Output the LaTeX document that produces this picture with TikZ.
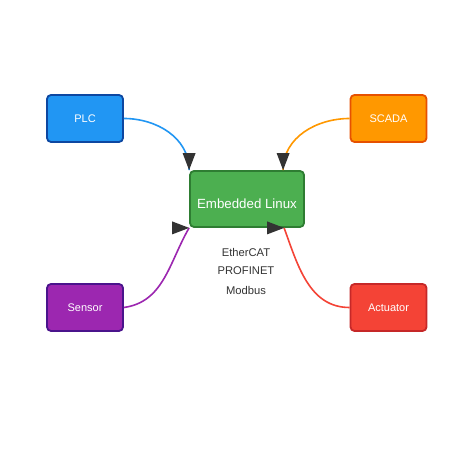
\documentclass[tikz,border=0pt]{standalone}
\usepackage{fontspec}
\setmainfont{Liberation Sans}
\usetikzlibrary{calc}
\definecolor{plcf}{HTML}{2196F3}\definecolor{plcd}{HTML}{0D47A1}
\definecolor{scaf}{HTML}{FF9800}\definecolor{scad}{HTML}{E65100}
\definecolor{senf}{HTML}{9C27B0}\definecolor{send}{HTML}{4A148C}
\definecolor{actf}{HTML}{F44336}\definecolor{actd}{HTML}{C62828}
\definecolor{linf}{HTML}{4CAF50}\definecolor{lind}{HTML}{2E7D32}
\definecolor{arrc}{HTML}{333333}
\tikzset{
  devbox/.style={draw, line width=1.8pt, rounded corners=4pt, minimum width=76pt, minimum height=47pt, inner sep=0pt, text=white, font=\fontsize{11}{13}\selectfont},
  corebox/.style={devbox, minimum width=114pt, minimum height=56pt, text height=20pt, text depth=0pt, font=\fontsize{13.3}{15}\selectfont},
  link/.style={line width=1.6pt},
  tipc/.style={fill=arrc},
  proto/.style={text=arrc, font=\fontsize{11.2}{13}\selectfont}
}
\begin{document}
\begin{tikzpicture}[x=1pt,y=1pt]
\useasboundingbox[fill=white] (0,0) rectangle (474,474);
\node[devbox, fill=plcf, draw=plcd] (plc) at (85,355.5) {PLC};
\node[devbox, fill=scaf, draw=scad] (scada) at (388.5,355.5) {SCADA};
\node[devbox, fill=senf, draw=send] (sensor) at (85,166.5) {Sensor};
\node[devbox, fill=actf, draw=actd] (act) at (388.5,166.5) {Actuator};
\node[corebox, fill=linf, draw=lind] (lin) at (247,275) {Embedded Linux};
\coordinate (tnw) at (lin.north west);
\coordinate (tne) at ($(lin.north west)+(94,0)$);
\coordinate (tsw) at (lin.south west);
\coordinate (tse) at ($(lin.south west)+(95,0)$);
\node[proto] (p1) at (246,222) {EtherCAT};
\node[proto] (p2) at (246,203) {PROFINET};
\node[proto] (p3) at (246,184) {Modbus};
\draw[link, plcf] (plc.east) to[out=0,in=90] (tnw);
\draw[link, scaf] (scada.west) to[out=180,in=90] (tne);
\draw[link, senf] (sensor.east) to[out=8,in=240] (tsw);
\draw[link, actf] (act.west) to[out=180,in=290] (tse);
\fill[tipc] (tnw) -- ++(-6.5,17) -- ++(13,0) -- cycle;
\fill[tipc] (tne) -- ++(-6.5,17) -- ++(13,0) -- cycle;
\fill[tipc] (tsw) -- ++(-17,6.5) -- ++(0,-13) -- cycle;
\fill[tipc] (tse) -- ++(-17,6.5) -- ++(0,-13) -- cycle;
\end{tikzpicture}
\end{document}
